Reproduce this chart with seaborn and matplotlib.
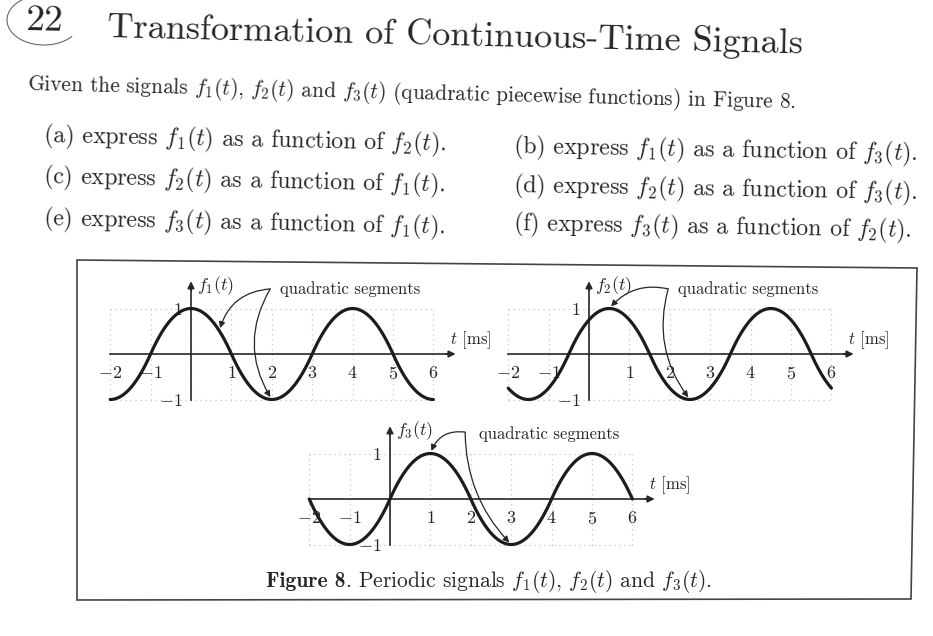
import numpy as np
import pandas as pd
import matplotlib
matplotlib.use("Agg")
import matplotlib.pyplot as plt
from matplotlib.patches import Arc, Polygon
import seaborn as sns

W, H = 933, 636

# lobes of the periodic signals: centre time and peak value of each quadratic piece
T_MIN, T_MAX = -2, 6
HALF_WIDTH = 1.0
f1_centres = [-2, 0, 2, 4, 6]
f1_peaks = [-1, 1, -1, 1, -1]
f2_centres = [-1.5, 0.5, 2.5, 4.5, 6.5]
f2_peaks = [-1, 1, -1, 1, -1]
f3_centres = [-1, 1, 3, 5]
f3_peaks = [-1, 1, -1, 1]

# where the "quadratic segments" arrows point (t values)
f1_targets = [0.7, 2.0]
f2_targets = [0.5, 2.5]
f3_targets = [1.0, 3.0]

x_ticks = [-2, -1, 0, 1, 2, 3, 4, 5, 6]
x_tick_labels = ["$-2$", "$-1$", "", "$1$", "$2$", "$3$", "$4$", "$5$", "$6$"]
y_ticks = [-1, 1]
y_tick_labels = ["$-1$", "$1$"]

title_num = "22"
title = "Transformation of Continuous-Time Signals"
intro = "Given the signals $f_1(t)$, $f_2(t)$ and $f_3(t)$ (quadratic piecewise functions) in Figure 8."
items_left = ["(a) express $f_1(t)$ as a function of $f_2(t)$.",
              "(c) express $f_2(t)$ as a function of $f_1(t)$.",
              "(e) express $f_3(t)$ as a function of $f_1(t)$."]
items_right = ["(b) express $f_1(t)$ as a function of $f_3(t)$.",
               "(d) express $f_2(t)$ as a function of $f_3(t)$.",
               "(f) express $f_3(t)$ as a function of $f_2(t)$."]
caption_bold = "Figure 8"
caption_rest = ". Periodic signals $f_1(t)$, $f_2(t)$ and $f_3(t)$."

INK = "#262626"
GRID = "#c4c4c4"

sns.set_theme(style="white")
plt.rcParams["font.family"] = ["cmr10"]
plt.rcParams["mathtext.fontset"] = "cm"
plt.rcParams["axes.unicode_minus"] = False
plt.rcParams["axes.formatter.use_mathtext"] = True


def lobes(centres, peaks):
    parts = []
    for c, p in zip(centres, peaks):
        t = np.linspace(max(c - HALF_WIDTH, T_MIN), min(c + HALF_WIDTH, T_MAX), 60)
        parts.append(pd.DataFrame({"t": t, "y": p * (1 - ((t - c) / HALF_WIDTH) ** 2)}))
    return pd.concat(parts, ignore_index=True)


def value_at(t, centres, peaks):
    for c, p in zip(centres, peaks):
        if abs(t - c) <= HALF_WIDTH:
            return p * (1 - ((t - c) / HALF_WIDTH) ** 2)
    return 0.0


fig = plt.figure(figsize=(W / 100, H / 100), dpi=100)
fig.patch.set_facecolor("white")

# page layer in pixel coordinates
page = fig.add_axes([0, 0, 1, 1])
page.set_xlim(0, W)
page.set_ylim(H, 0)
page.axis("off")

page.text(25, 30, title_num, fontsize=27, color=INK, rotation=-1.3,
          rotation_mode="anchor", ha="left", va="baseline")
page.add_patch(Arc((44, 20), 74, 50, theta1=30, theta2=262, color="#666", lw=0.8))
page.text(107, 37, title, fontsize=26, color=INK, rotation=-1.35,
          rotation_mode="anchor", ha="left", va="baseline")
page.text(27, 90, intro, fontsize=15.3, color=INK, rotation=-1.35,
          rotation_mode="anchor", ha="left", va="baseline")
for i, (a, b) in enumerate(zip(items_left, items_right)):
    y = [142, 183, 225][i]
    yr = [153, 192, 230][i]
    page.text(43, y, a, fontsize=17.2, color=INK, rotation=-1.2,
              rotation_mode="anchor", ha="left", va="baseline")
    page.text(513, yr, b, fontsize=17.2, color=INK, rotation=-1.0,
              rotation_mode="anchor", ha="left", va="baseline")

page.add_patch(Polygon([(77, 260), (917, 268), (911, 599), (77, 600)], closed=True,
                       fill=False, edgecolor="#444", lw=1.2))

# caption: bold lead-in followed by the regular text
renderer = fig.canvas.get_renderer()
cap_b = page.text(0, 587, caption_bold, fontsize=15.5, color=INK, family="cmb10",
                  ha="left", va="baseline")
cap_r = page.text(0, 587, caption_rest, fontsize=15.5, color=INK, ha="left", va="baseline")
wb = cap_b.get_window_extent(renderer).width
wr = cap_r.get_window_extent(renderer).width
x_start = 489 - (wb + wr) / 2
cap_b.set_x(x_start)
cap_r.set_x(x_start + wb)

# signal panels
UX, UY = 40.4, 45.5
XLIM = (-2.6, 7.6)
YLIM = (-1.55, 1.75)

panels = [
    (r"$f_1(t)$", f1_centres, f1_peaks, f1_targets, (191, 354), (1.96, 1.43), [0.35, 0.3]),
    (r"$f_2(t)$", f2_centres, f2_peaks, f2_targets, (589, 354), (1.96, 1.43), [0.3, 0.25]),
    (r"$f_3(t)$", f3_centres, f3_peaks, f3_targets, (390, 499), (1.86, 1.47), [0.4, 0.2]),
]

for label, centres, peaks, targets, (x0, y0), start, rads in panels:
    left = x0 + XLIM[0] * UX
    right = x0 + XLIM[1] * UX
    top = y0 - YLIM[1] * UY
    bottom = y0 - YLIM[0] * UY
    ax = fig.add_axes([left / W, 1 - bottom / H, (right - left) / W, (bottom - top) / H])
    ax.patch.set_alpha(0)

    df = lobes(centres, peaks)
    ax.hlines(y_ticks, T_MIN, T_MAX, colors=GRID, linestyles=(0, (1, 3)), lw=0.9, zorder=0)
    ax.vlines(x_ticks, -1, 1, colors=GRID, linestyles=(0, (1, 3)), lw=0.9, zorder=0)
    sns.lineplot(data=df, x="t", y="y", ax=ax, color="#1c1c1c", lw=2.3,
                 sort=False, estimator=None, zorder=3)

    ax.set_xlim(*XLIM)
    ax.set_ylim(*YLIM)
    ax.set(xlabel="", ylabel="")
    for s in ["top", "right"]:
        ax.spines[s].set_visible(False)
    ax.spines["bottom"].set_position(("data", 0))
    ax.spines["bottom"].set_bounds(T_MIN, 6.35)
    ax.spines["left"].set_position(("data", 0))
    ax.spines["left"].set_bounds(-1, 1.45)
    for s in ["bottom", "left"]:
        ax.spines[s].set_color(INK)
        ax.spines[s].set_linewidth(1.2)
    ax.annotate("", xy=(6.55, 0), xytext=(6.3, 0),
                arrowprops=dict(arrowstyle="-|>", color=INK, lw=1.2, mutation_scale=10,
                                shrinkA=0, shrinkB=0))
    ax.annotate("", xy=(0, 1.6), xytext=(0, 1.4),
                arrowprops=dict(arrowstyle="-|>", color=INK, lw=1.2, mutation_scale=10,
                                shrinkA=0, shrinkB=0))

    ax.set_xticks(x_ticks)
    ax.set_xticklabels(x_tick_labels)
    ax.set_yticks(y_ticks)
    ax.set_yticklabels(y_tick_labels)
    ax.tick_params(axis="both", direction="in", length=4, width=1, colors=INK, labelsize=13)
    ax.tick_params(axis="x", pad=8)
    ax.tick_params(axis="y", pad=6)

    ax.text(0.15, 1.5, label, fontsize=13, color=INK, ha="left", va="center")
    ax.text(2.2, 1.43, "quadratic segments", fontsize=12, color=INK, ha="left", va="center")
    ax.text(6.4, 0.3, "$t$ [ms]", fontsize=12, color=INK, ha="left", va="center")

    for t_target, rad in zip(targets, rads):
        ax.annotate("", xy=(t_target, value_at(t_target, centres, peaks)), xytext=start,
                    arrowprops=dict(arrowstyle="-|>", color=INK, lw=0.9, mutation_scale=9,
                                    connectionstyle=f"arc3,rad={rad}", shrinkA=0, shrinkB=2))

fig.savefig("out.png", dpi=100, facecolor="white")
